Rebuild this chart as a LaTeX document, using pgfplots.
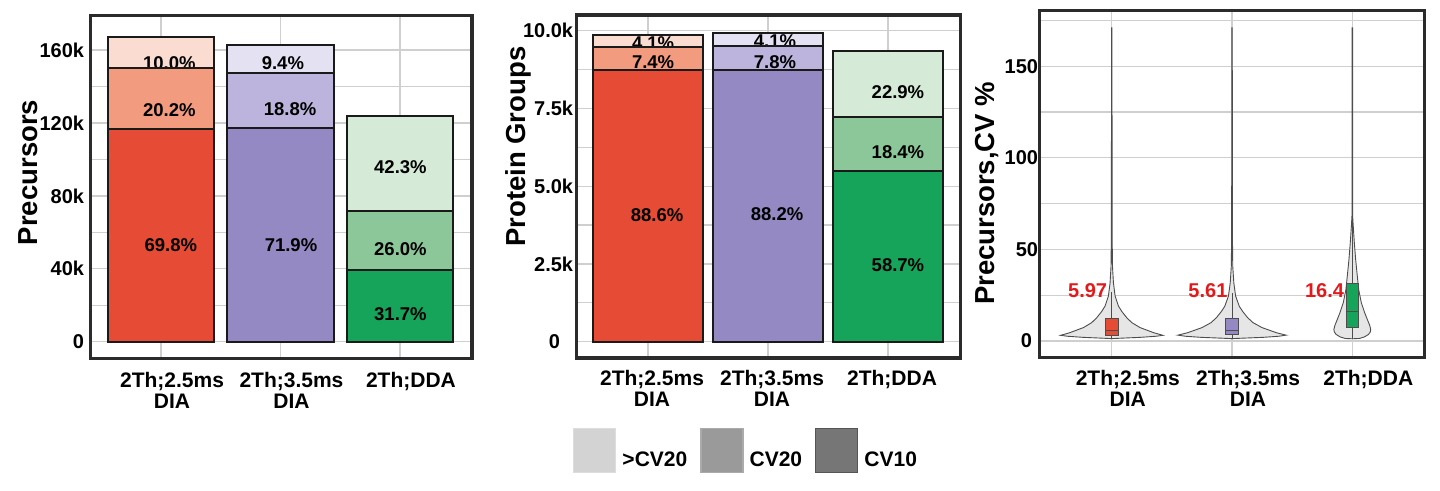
\documentclass[border=0pt]{standalone}
\usepackage{fontspec}
\setmainfont{Liberation Sans}
\usepackage{pgfplots}
\pgfplotsset{compat=1.18}
\usepgfplotslibrary{statistics}

\definecolor{r1}{HTML}{E64B35}
\definecolor{r2}{HTML}{F39B7F}
\definecolor{r3}{HTML}{FBDCD1}
\definecolor{p1}{HTML}{9589C3}
\definecolor{p2}{HTML}{BCB4DC}
\definecolor{p3}{HTML}{E4E1F2}
\definecolor{g1}{HTML}{16A35A}
\definecolor{g2}{HTML}{8CC79A}
\definecolor{g3}{HTML}{D5EBD7}
\definecolor{gridc}{HTML}{CFCFCF}
\definecolor{framec}{HTML}{2B2B2B}
\definecolor{barline}{HTML}{1A1A1A}
\definecolor{labred}{HTML}{E3191C}
\definecolor{violf}{HTML}{E6E6E6}
\definecolor{viold}{HTML}{4D4D4D}
\definecolor{lgA}{HTML}{D3D3D3}
\definecolor{lgAb}{HTML}{DDDDDD}
\definecolor{lgB}{HTML}{9A9A9A}
\definecolor{lgBb}{HTML}{AAAAAA}
\definecolor{lgC}{HTML}{767676}
\definecolor{lgCb}{HTML}{555555}

\newcommand{\fs}[2]{\fontsize{#1bp}{#2bp}\selectfont\bfseries}

\tikzset{
  pct/.style={font=\fs{18.5}{18.5}, inner sep=0pt, anchor=center},
  redlab/.style={font=\fs{20}{20}, text=labred, inner sep=0pt, anchor=east},
}
\pgfplotsset{
  panel/.style={
    scale only axis,
    axis line style={line width=3.5bp, framec, line cap=rect},
    xtick={0,1,2},
    xticklabels={{2Th;2.5ms\\DIA},{2Th;3.5ms\\DIA},{2Th;DDA}},
    xticklabel style={align=center, font=\fs{21}{20.7}, inner sep=0pt, anchor=north},
    yticklabel style={font=\fs{20}{20}, inner sep=0pt, anchor=east},
    major tick length=0pt, minor tick length=0pt,
    xmajorgrids, ymajorgrids, yminorgrids,
    major grid style={gridc, line width=1.3bp},
    minor grid style={gridc, line width=1.3bp},
    ylabel style={font=\fs{27.5}{30}, inner sep=0pt, anchor=north},
    /pgf/number format/assume math mode=true,
    clip=false,
  },
  segbar/.style={ybar, bar shift=0pt, draw=barline, line width=2bp, fill=#1, forget plot},
  vio/.style={fill=violf, draw=viold, line width=0.9bp, forget plot},
  cvbox/.style={fill=#1, draw=viold, line width=0.9bp, forget plot,
    boxplot/draw direction=y, boxplot/box extend=0.105, boxplot/whisker extend=0},
}

\begin{document}
\begin{tikzpicture}
\useasboundingbox (0,0) rectangle (1440bp,491bp);

% ---------------- Panel 1: Precursors ----------------
\begin{axis}[panel, at={(90.3bp,132.3bp)}, anchor=south west,
  width=381.7bp, height=343bp,
  xmin=-0.592, xmax=2.603, ymin=-9.3, ymax=178.8,
  bar width=0.895,
  ytick={0,40,80,120,160}, minor ytick={20,60,100,140},
  yticklabels={0,40k,80k,120k,160k},
  yticklabel style={xshift=-6bp},
  xticklabel style={xshift=11bp, yshift=-13.3bp},
  ylabel={Precursors},
  ylabel style={at={(axis description cs:-0.1886,0.543)}},
]
\addplot[segbar=r3] coordinates {(0,167.0)};
\node[pct] at (axis cs:0.07,152.9) {10.0\%};
\addplot[segbar=r2] coordinates {(0,150.2)};
\node[pct] at (axis cs:0.07,127.1) {20.2\%};
\addplot[segbar=r1] coordinates {(0,116.6)};
\node[pct] at (axis cs:0.082,53.2) {69.8\%};

\addplot[segbar=p3] coordinates {(1,162.8)};
\node[pct] at (axis cs:1.02,152.7) {9.4\%};
\addplot[segbar=p2] coordinates {(1,147.4)};
\node[pct] at (axis cs:1.08,127.8) {18.8\%};
\addplot[segbar=p1] coordinates {(1,117.1)};
\node[pct] at (axis cs:1.088,53.0) {71.9\%};

\addplot[segbar=g3] coordinates {(2,124.0)};
\node[pct] at (axis cs:2.004,96.0) {42.3\%};
\addplot[segbar=g2] coordinates {(2,71.7)};
\node[pct] at (axis cs:2.004,50.7) {26.0\%};
\addplot[segbar=g1] coordinates {(2,39.3)};
\node[pct] at (axis cs:2.004,15.0) {31.7\%};
\end{axis}

% ---------------- Panel 2: Protein Groups ----------------
\begin{axis}[panel, at={(576.3bp,133bp)}, anchor=south west,
  width=384.4bp, height=343bp,
  xmin=-0.598, xmax=2.606, ymin=-0.524, ymax=10.505,
  bar width=0.917,
  ytick={0,2.5,5,7.5,10}, minor ytick={1.25,3.75,6.25,8.75},
  yticklabels={0\hspace*{13bp},2.5k,5.0k,7.5k,10.0k},
  yticklabel style={xshift=-3bp},
  xticklabel style={xshift=4bp, yshift=-12bp},
  ylabel={Protein Groups},
  ylabel style={at={(axis description cs:-0.1855,0.616)}},
  legend columns=3,
  legend style={at={(axis description cs:-0.0086,-0.204)}, anchor=north west,
    draw=none, fill=none, inner sep=0pt, font=\fs{21}{21},
    nodes={inner sep=0pt},
    column sep=0pt,
    /tikz/every odd column/.append style={column sep=6bp},
    /tikz/every even column/.append style={column sep=13bp}},
]
\addplot[segbar=r3] coordinates {(0,9.87)};
\node[pct] at (axis cs:0.042,9.61) {4.1\%};
\addplot[segbar=r2] coordinates {(0,9.475)};
\node[pct] at (axis cs:0.042,8.98) {7.4\%};
\addplot[segbar=r1] coordinates {(0,8.745)};
\node[pct] at (axis cs:0.075,4.07) {88.6\%};

\addplot[segbar=p3] coordinates {(1,9.93)};
\node[pct] at (axis cs:1.058,9.68) {4.1\%};
\addplot[segbar=p2] coordinates {(1,9.52)};
\node[pct] at (axis cs:1.058,9.00) {7.8\%};
\addplot[segbar=p1] coordinates {(1,8.75)};
\node[pct] at (axis cs:1.075,4.11) {88.2\%};

\addplot[segbar=g3] coordinates {(2,9.36)};
\node[pct] at (axis cs:2.083,8.01) {22.9\%};
\addplot[segbar=g2] coordinates {(2,7.21)};
\node[pct] at (axis cs:2.083,6.09) {18.4\%};
\addplot[segbar=g1] coordinates {(2,5.49)};
\node[pct] at (axis cs:2.083,2.47) {58.7\%};

\addlegendimage{legend image code/.code={\draw[fill=lgA, draw=lgAb, line width=1.3bp] (0bp,-13bp) rectangle (42bp,31bp);}}
\addlegendimage{legend image code/.code={\draw[fill=lgB, draw=lgBb, line width=1.3bp] (0bp,-13bp) rectangle (42bp,31bp);}}
\addlegendimage{legend image code/.code={\draw[fill=lgC, draw=lgCb, line width=1.3bp] (0bp,-13bp) rectangle (42bp,31bp);}}
\legend{{>CV20},{CV20},{CV10}}
\end{axis}

% ---------------- Panel 3: CV violins ----------------
\begin{axis}[panel, at={(1039.7bp,133.7bp)}, anchor=south west,
  width=385bp, height=346.6bp,
  xmin=-0.599, xmax=2.602, ymin=-8.9, ymax=180.3,
  ytick={0,50,100,150}, minor ytick={25,75,125,175},
  yticklabels={0\hspace*{6bp},50,100,150},
  yticklabel style={xshift=-1.5bp},
  xticklabel style={xshift=16bp, yshift=-12.7bp},
  ylabel={Precursors,CV \%},
  ylabel style={at={(axis description cs:-0.168,0.473)}},
]
\addplot[vio] coordinates {
 (0,1.3) (0.10,1.6) (0.24,2.0) (0.37,2.6) (0.425,3.1) (0.35,4.5) (0.236,7.3)
 (0.167,10) (0.125,12.7) (0.085,16) (0.056,19) (0.028,24.5) (0.014,31.7)
 (0.006,40.8) (0.003,60) (0.002,171) (-0.002,171) (-0.003,60) (-0.006,40.8)
 (-0.014,31.7) (-0.028,24.5) (-0.056,19) (-0.085,16) (-0.125,12.7) (-0.167,10)
 (-0.236,7.3) (-0.35,4.5) (-0.425,3.1) (-0.37,2.6) (-0.24,2.0) (-0.10,1.6) (0,1.3)};
\addplot[vio] coordinates {
 (1,1.3) (1.11,1.6) (1.26,2.0) (1.39,2.6) (1.45,3.2) (1.37,4.5) (1.25,7.3)
 (1.175,10) (1.13,12.7) (1.09,16) (1.06,19) (1.03,24.5) (1.015,31.7)
 (1.006,40.8) (1.003,60) (1.002,171) (0.998,171) (0.997,60) (0.994,40.8)
 (0.985,31.7) (0.97,24.5) (0.94,19) (0.91,16) (0.87,12.7) (0.825,10)
 (0.75,7.3) (0.63,4.5) (0.55,3.2) (0.61,2.6) (0.74,2.0) (0.89,1.6) (1,1.3)};
\addplot[vio] coordinates {
 (2,1.2) (2.06,1.4) (2.10,2.2) (2.135,3.6) (2.15,5) (2.153,6.3) (2.145,8.5)
 (2.13,10.9) (2.103,15.4) (2.075,20.9) (2.053,28.1) (2.039,37.2) (2.028,44.4)
 (2.017,53.5) (2.008,62.5) (2.003,68) (2.002,171) (1.998,171) (1.997,68)
 (1.992,62.5) (1.983,53.5) (1.972,44.4) (1.961,37.2) (1.947,28.1) (1.925,20.9)
 (1.897,15.4) (1.87,10.9) (1.855,8.5) (1.847,6.3) (1.85,5) (1.865,3.6)
 (1.90,2.2) (1.94,1.4) (2,1.2)};

\addplot[cvbox=r1, boxplot prepared={draw position=0, lower whisker=1.3, lower quartile=3.0,
  median=5.97, upper quartile=12.4, upper whisker=26.8}] coordinates {};
\addplot[cvbox=p1, boxplot prepared={draw position=1, lower whisker=1.3, lower quartile=3.3,
  median=5.61, upper quartile=12.4, upper whisker=26.3}] coordinates {};
\addplot[cvbox=g1, boxplot prepared={draw position=2, lower whisker=1.2, lower quartile=7.5,
  median=16.4, upper quartile=31.5, upper whisker=67.5}] coordinates {};

\node[redlab] at (axis cs:-0.037,27.3) {5.97};
\node[redlab] at (axis cs:0.963,27.3) {5.61};
\node[redlab] at (axis cs:1.933,27.5) {16.4};
\end{axis}
\end{tikzpicture}
\end{document}
